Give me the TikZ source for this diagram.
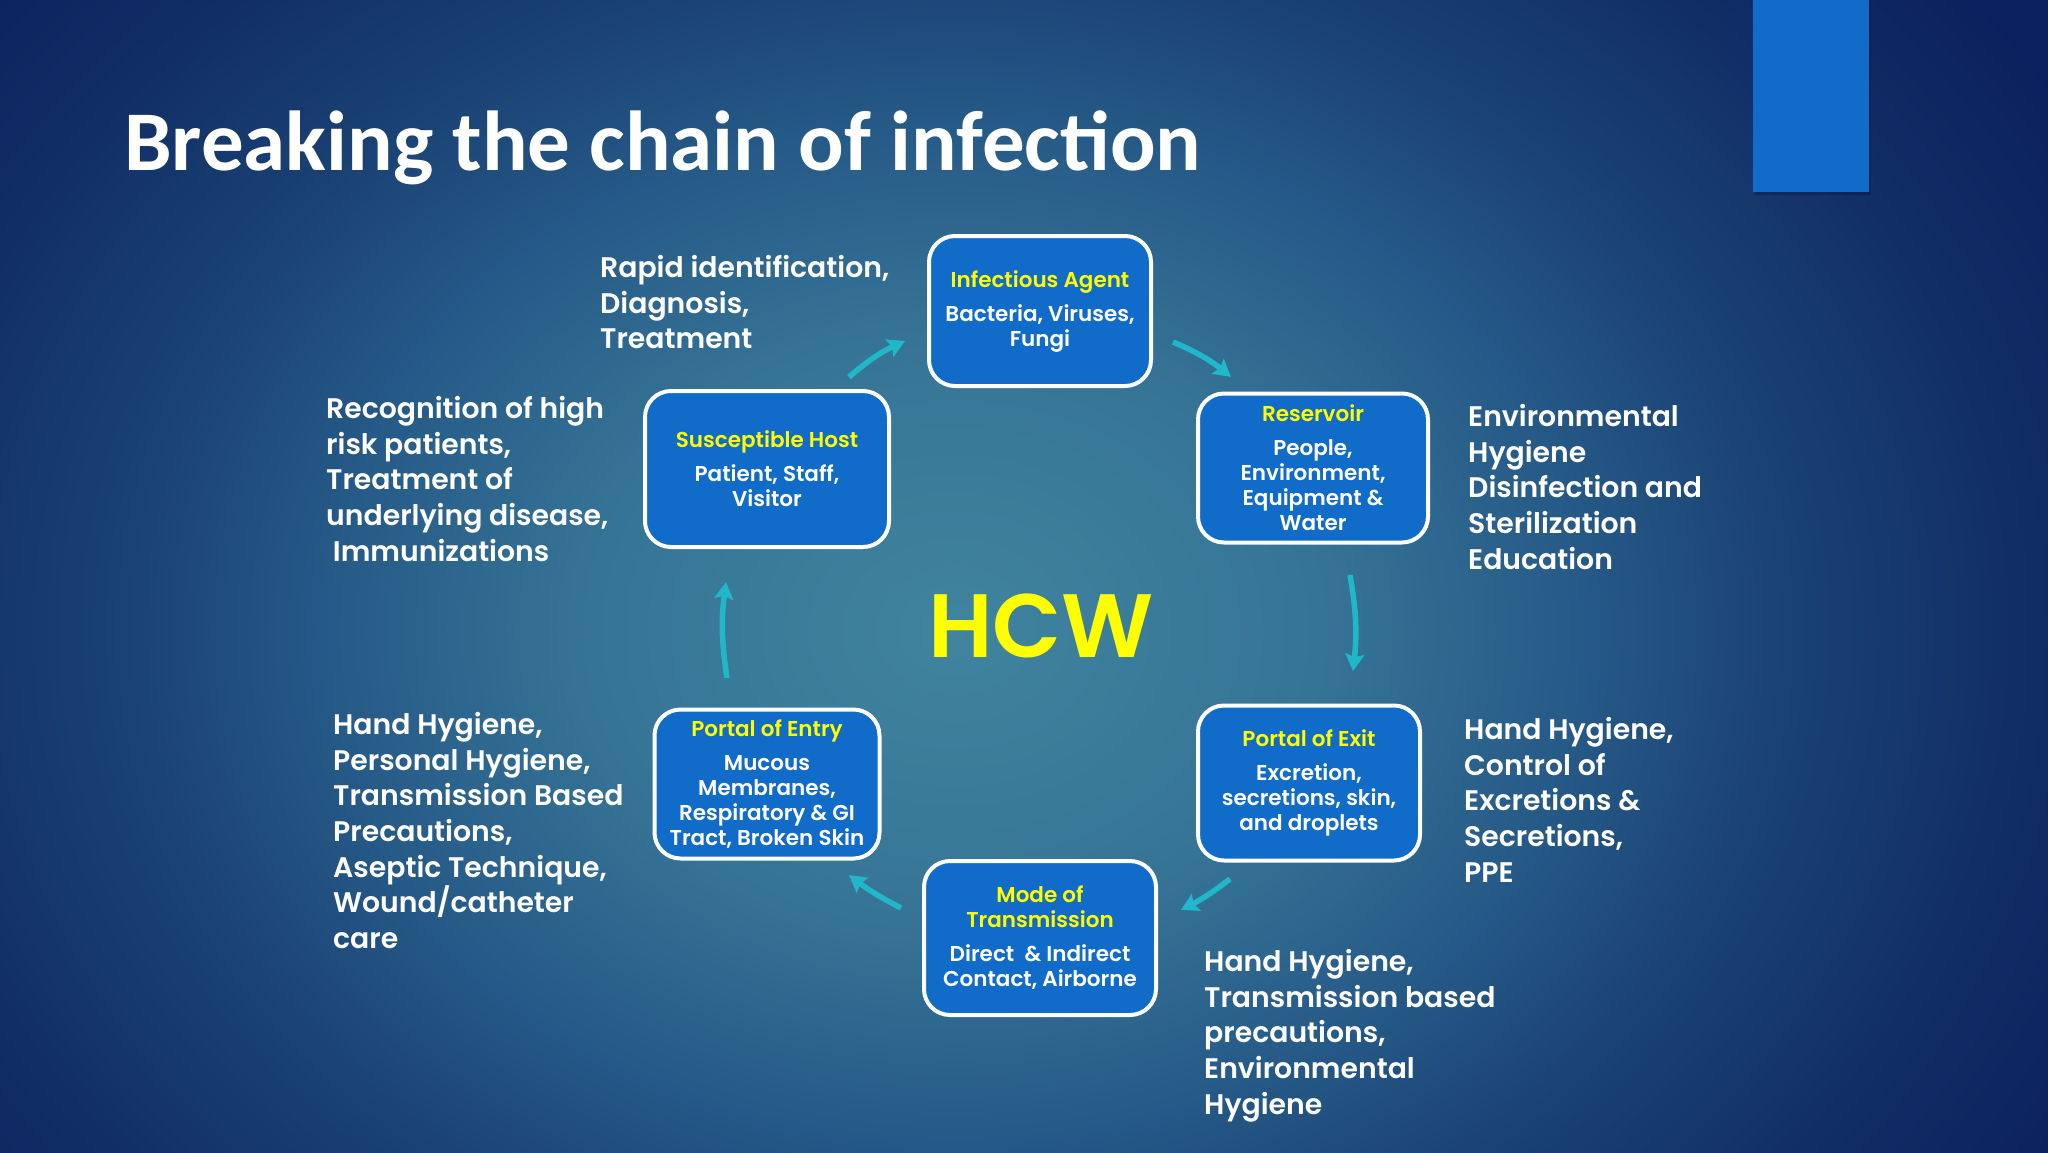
\documentclass[tikz,border=0pt]{standalone}
\usepackage{fontspec}
\setmainfont{Poppins}[BoldFont={Poppins SemiBold}]
\newfontfamily\titlefont{Carlito}
\usetikzlibrary{arrows.meta}
\definecolor{bgc0}{RGB}{64,132,158}
\definecolor{bgc1}{RGB}{54,116,150}
\definecolor{bgc2}{RGB}{38,90,135}
\definecolor{bgc3}{RGB}{26,66,116}
\definecolor{bgc4}{RGB}{17,46,102}
\definecolor{bgout}{RGB}{11,32,94}
\definecolor{boxblue}{RGB}{16,108,200}
\definecolor{hy}{RGB}{255,255,0}
\definecolor{arrcol}{RGB}{32,184,200}
\pgfdeclareradialshading{bgshade}{\pgfpoint{0bp}{0bp}}{color(0bp)=(bgc0); color(7bp)=(bgc1); color(12bp)=(bgc2); color(16bp)=(bgc3); color(20.5bp)=(bgc4); color(25bp)=(bgout); color(50bp)=(bgout)}
\newcommand{\boxfont}{\fontsize{21.5}{25}\selectfont\bfseries}
\newcommand{\sidefont}{\fontsize{28.3}{35.7}\selectfont\bfseries}
\begin{document}
\begin{tikzpicture}[x=1pt,y=-1pt,
  stepbox/.style={draw=white, line width=4pt, fill=boxblue, rounded corners=26pt,
    align=center, inner sep=0pt, text=white, font=\boxfont},
  side/.style={anchor=north west, align=left, inner sep=0pt, text=white, font=\sidefont},
  arr/.style={draw=arrcol, line width=5.5pt, -{Stealth[length=17pt,width=19pt,inset=3pt]}}]
\fill[bgout] (0,0) rectangle (2048,1152);
\useasboundingbox (0,0) rectangle (2048,1152);
\begin{scope}
\clip (0,0) rectangle (2048,1152);
\shade[shading=bgshade] (955,630) ellipse [x radius=1300, y radius=1050];
\end{scope}
% top-right bar
\fill[black,opacity=0.2] (1755,0) rectangle (1871,195);
\fill[boxblue] (1753,0) rectangle (1869,192);
% title
\node[anchor=base west, inner sep=0pt, text=white, font=\titlefont\bfseries\fontsize{85}{100}\selectfont] (title) at (124,170) {Breaking the chain of infection};
% HCW
\node[inner sep=0pt, text=hy, font=\fontsize{90}{100}\selectfont\bfseries] (hcw) at (1041,626) {HCW};
% boxes
\node[stepbox, minimum width=222, minimum height=150] (ia) at (1040,311)
  {\textcolor{hy}{Infectious Agent}\\[9pt]Bacteria, Viruses,\\Fungi};
\node[stepbox, minimum width=230, minimum height=149] (res) at (1313,468)
  {\textcolor{hy}{Reservoir}\\[9pt]People,\\Environment,\\Equipment \&\\Water};
\node[stepbox, minimum width=222, minimum height=155] (exit) at (1309,783)
  {\textcolor{hy}{Portal of Exit}\\[9pt]Excretion,\\secretions, skin,\\and droplets};
\node[stepbox, minimum width=232, minimum height=154] (mode) at (1040,938)
  {\textcolor{hy}{Mode of}\\\textcolor{hy}{Transmission}\\[9pt]Direct\ \ \& Indirect\\Contact, Airborne};
\node[stepbox, minimum width=225, minimum height=149] (entry) at (767,784)
  {\textcolor{hy}{Portal of Entry}\\[9pt]Mucous\\Membranes,\\Respiratory \& GI\\Tract, Broken Skin};
\node[stepbox, minimum width=244, minimum height=156] (host) at (767,469)
  {\textcolor{hy}{Susceptible Host}\\[9pt]Patient, Staff,\\Visitor};
% side texts
\node[side] (t1) at (600,255) {Rapid identification,\\Diagnosis,\\Treatment};
\node[side] (t2) at (326,396) {Recognition of high\\risk patients,\\Treatment of\\underlying disease,\\\ Immunizations};
\node[side] (t3) at (1468,404) {Environmental\\Hygiene\\Disinfection and\\Sterilization\\Education};
\node[side] (t4) at (1464,717) {Hand Hygiene,\\Control of\\Excretions \&\\Secretions,\\PPE};
\node[side] (t5) at (1204,949) {Hand Hygiene,\\Transmission based\\precautions,\\Environmental\\Hygiene};
\node[side] (t6) at (333,712) {Hand Hygiene,\\Personal Hygiene,\\Transmission Based\\Precautions,\\Aseptic Technique,\\Wound/catheter\\care};
% arrows
\coordinate (a1s) at (849,377); \coordinate (a1e) at (905,341);
\coordinate (a2s) at (1173,342); \coordinate (a2e) at (1231,377);
\coordinate (a3s) at (1350,575); \coordinate (a3e) at (1353,671);
\coordinate (a4s) at (1230,879); \coordinate (a4e) at (1181,910);
\coordinate (a5s) at (901,908); \coordinate (a5e) at (849,875);
\coordinate (a6s) at (727,678); \coordinate (a6e) at (726,582);
\draw[arr] (a1s) to[bend left=8] (a1e);
\draw[arr] (a2s) to[bend left=8] (a2e);
\draw[arr] (a3s) to[bend left=8] (a3e);
\draw[arr] (a4s) to[bend left=5] (a4e);
\draw[arr] (a5s) to[bend left=5] (a5e);
\draw[arr] (a6s) to[bend left=8] (a6e);
\end{tikzpicture}
\end{document}
